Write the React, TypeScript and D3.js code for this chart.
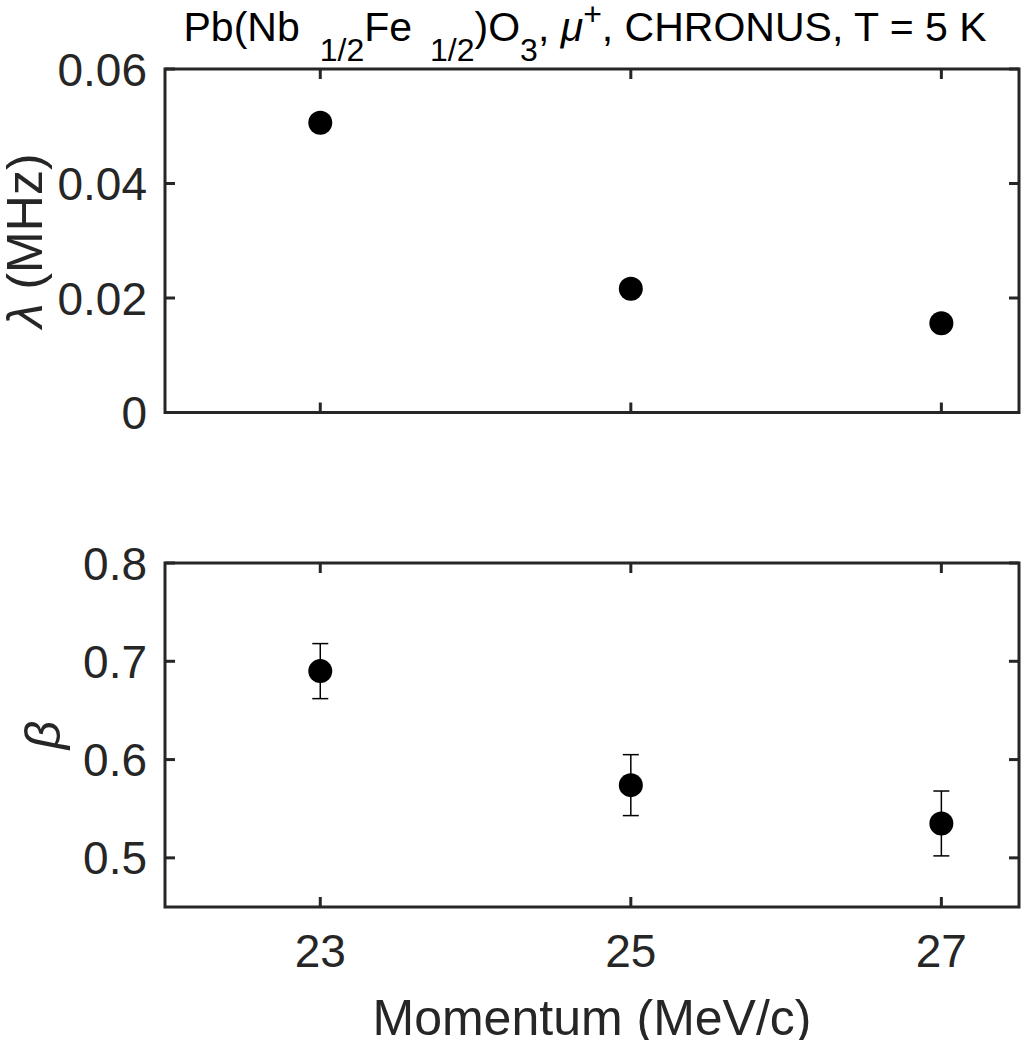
import { scaleLinear } from 'd3';

const WIDTH = 1025;
const HEIGHT = 1040;
const AXIS = '#262626';
const FONT = '"Liberation Sans", Arial, Helvetica, sans-serif';

// momentum of the muon beam (MeV/c)
const momentum = [23, 25, 27];
// relaxation rate lambda (MHz)
const lambda = [0.0506, 0.0216, 0.0156];
// stretching exponent beta and its error
const beta = [0.690, 0.574, 0.535];
const betaErr = [0.028, 0.031, 0.033];

const xTicks = [23, 25, 27];
const lambdaTicks = [0, 0.02, 0.04, 0.06];
const betaTicks = [0.5, 0.6, 0.7, 0.8];

const LEFT = 165;
const RIGHT = 1019;
const TICK = 10;

const xScale = scaleLinear().domain([22, 27.5]).range([LEFT, RIGHT]);
const yTop = scaleLinear().domain([0, 0.06]).range([412.5, 69]);
const yBot = scaleLinear().domain([0.45, 0.8]).range([907, 563]);

interface PanelProps {
  readonly y: ReturnType<typeof scaleLinear<number, number>>;
  readonly yTicks: readonly number[];
  readonly showXLabels: boolean;
}

function Panel({ y, yTicks, showXLabels }: PanelProps) {
  const [y0, y1] = y.range();
  const bottom = Math.max(y0, y1);
  const top = Math.min(y0, y1);
  return (
    <g>
      {xTicks.map(t => (
        <g key={`x${t}`} stroke={AXIS} strokeWidth={3}>
          <line x1={xScale(t)} x2={xScale(t)} y1={bottom} y2={bottom - TICK} />
          <line x1={xScale(t)} x2={xScale(t)} y1={top} y2={top + TICK} />
        </g>
      ))}
      {yTicks.map(t => (
        <g key={`y${t}`}>
          <line x1={LEFT} x2={LEFT + TICK} y1={y(t)} y2={y(t)} stroke={AXIS} strokeWidth={3} />
          <line x1={RIGHT} x2={RIGHT - TICK} y1={y(t)} y2={y(t)} stroke={AXIS} strokeWidth={3} />
          <text
            x={LEFT - 18}
            y={y(t)}
            dy="0.36em"
            textAnchor="end"
            fontSize={46}
            fill={AXIS}
          >
            {String(t)}
          </text>
        </g>
      ))}
      {showXLabels && xTicks.map(t => (
        <text
          key={`xl${t}`}
          x={xScale(t)}
          y={bottom + 60}
          textAnchor="middle"
          fontSize={46}
          fill={AXIS}
        >
          {String(t)}
        </text>
      ))}
      <rect
        x={LEFT}
        y={top}
        width={RIGHT - LEFT}
        height={bottom - top}
        fill="none"
        stroke={AXIS}
        strokeWidth={3}
      />
    </g>
  );
}

export default function App() {
  return (
    <svg
      width={WIDTH}
      height={HEIGHT}
      style={{ position: 'absolute', left: 0, top: 0, background: '#fff' }}
      fontFamily={FONT}
    >
      <rect width={WIDTH} height={HEIGHT} fill="#fff" />

      {/* title */}
      <text x={585} y={41} textAnchor="middle" fontSize={41} fill="#000">
        Pb(Nb
        <tspan dx={20} dy={20} fontSize={32}>1/2</tspan>
        <tspan dy={-20}>Fe</tspan>
        <tspan dx={18} dy={20} fontSize={32}>1/2</tspan>
        <tspan dy={-20}>)O</tspan>
        <tspan dy={20} fontSize={32}>3</tspan>
        <tspan dy={-20}>, </tspan>
        <tspan fontStyle="italic">μ</tspan>
        <tspan dy={-16} fontSize={32}>+</tspan>
        <tspan dy={16}>, CHRONUS, T = 5 K</tspan>
      </text>

      <Panel y={yTop} yTicks={lambdaTicks} showXLabels={false} />
      <Panel y={yBot} yTicks={betaTicks} showXLabels={true} />

      {/* lambda markers */}
      {momentum.map((m, i) => (
        <circle key={`l${m}`} cx={xScale(m)} cy={yTop(lambda[i])} r={12} fill="#000" />
      ))}

      {/* beta error bars and markers */}
      {momentum.map((m, i) => {
        const cx = xScale(m);
        const hi = yBot(beta[i] + betaErr[i]);
        const lo = yBot(beta[i] - betaErr[i]);
        return (
          <g key={`b${m}`}>
            <g stroke="#000" strokeWidth={1.5}>
              <line x1={cx} x2={cx} y1={hi} y2={lo} />
              <line x1={cx - 8} x2={cx + 8} y1={hi} y2={hi} />
              <line x1={cx - 8} x2={cx + 8} y1={lo} y2={lo} />
            </g>
            <circle cx={cx} cy={yBot(beta[i])} r={12} fill="#000" />
          </g>
        );
      })}

      {/* axis labels */}
      <text
        transform={`translate(42, ${(yTop.range()[0] + yTop.range()[1]) / 2}) rotate(-90)`}
        textAnchor="middle"
        fontSize={50}
        fill={AXIS}
      >
        <tspan fontStyle="italic">λ</tspan> (MHz)
      </text>
      <text
        transform={`translate(60, ${(yBot.range()[0] + yBot.range()[1]) / 2}) rotate(-90)`}
        textAnchor="middle"
        fontSize={50}
        fontStyle="italic"
        fill={AXIS}
      >
        β
      </text>
      <text x={(LEFT + RIGHT) / 2} y={1035} textAnchor="middle" fontSize={50} fill={AXIS}>
        Momentum (MeV/c)
      </text>
    </svg>
  );
}
